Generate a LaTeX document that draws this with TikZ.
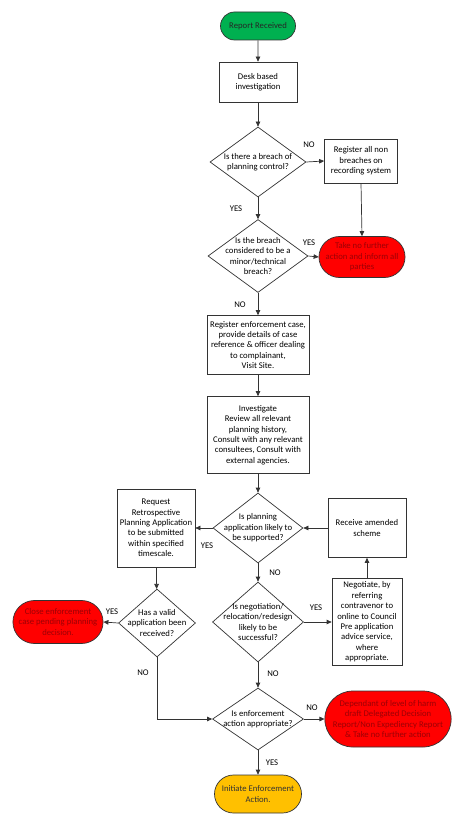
\documentclass[tikz,border=0pt]{standalone}
\usepackage{fontspec}
\setmainfont{Carlito}
\usetikzlibrary{shapes.geometric,shapes.misc,arrows.meta}
\definecolor{startgreen}{HTML}{00B050}
\definecolor{stopred}{HTML}{FF0000}
\definecolor{stoptext}{HTML}{9C0006}
\definecolor{goorange}{HTML}{FFC000}
\definecolor{edge}{HTML}{333333}
\tikzset{
  centered/.style = { align=center, anchor=center },
      base/.style = { draw=edge, line width=0.7pt, centered, inner sep=1pt,
                      font=\fontsize{8.7}{10.4}\selectfont },
       box/.style 2 args = { base, rectangle, fill=white,
                      minimum width=#1, minimum height=#2 },
      ends/.style 2 args = { base, rounded rectangle,
                      minimum width=#1, minimum height=#2 },
  greenend/.style = { fill=startgreen, text=black!85 },
    redend/.style = { fill=stopred, text=stoptext },
 orangeend/.style = { fill=goorange, text=black!80 },
  decision/.style 2 args = { diamond, draw=edge, line width=0.7pt, fill=white,
                      inner sep=0pt, minimum width=#1, minimum height=#2 },
     qtext/.style = { centered, inner sep=0pt, font=\fontsize{8.7}{10.4}\selectfont },
    answer/.style = { centered, inner sep=0pt, font=\fontsize{8.7}{10}\selectfont },
     arrow/.style = { draw=edge, line width=0.7pt, ->,
                      >={Triangle[length=5pt,width=4.5pt]} }
}

\begin{document}
\begin{tikzpicture}[x=1pt, y=-1pt]
  \useasboundingbox (0,0) rectangle (474,826);

  % main column
  \node[ends={77pt}{28pt}, greenend] (received) at (258,26) {Report Received};
  \node[box={78pt}{40pt}] (desk) at (258,82) {Desk based\\investigation};
  \node[decision={96pt}{70pt},
        label={[qtext]center:{Is there a breach of\\planning control?}}]
        (breach) at (258,162) {};
  \node[decision={100pt}{73pt},
        label={[qtext]center:{Is the breach\\considered to be a\\minor/technical\\breach?}}]
        (minor) at (258,256) {};
  \node[box={102pt}{59pt}] (register) at (258,345)
        {Register enforcement case,\\provide details of case\\reference \& officer dealing\\to complainant,\\Visit Site.};
  \node[box={102pt}{77pt}] (investigate) at (258,435)
        {Investigate\\Review all relevant\\planning history,\\Consult with any relevant\\consultees, Consult with\\external agencies.};
  \node[decision={90pt}{70pt},
        label={[qtext]center:{Is planning\\application likely to\\be supported?}}]
        (supported) at (258,528) {};
  \node[decision={91pt}{80pt},
        label={[qtext]center:{Is negotiation/\\relocation/redesign\\likely to be\\successful?}}]
        (negotiation) at (258,622) {};
  \node[decision={91pt}{62pt},
        label={[qtext]center:{Is enforcement\\action appropriate?}}]
        (enforce) at (258,719) {};
  \node[ends={89pt}{38pt}, orangeend] (initiate) at (258,794) {Initiate Enforcement\\Action.};

  % right side
  \node[box={73pt}{44pt}] (nonbreach) at (361,161) {Register all non\\breaches on\\recording system};
  \node[ends={79pt}{41pt}, redend] (nofurther) at (362,257) {Take no further\\action and inform all\\parties};
  \node[box={78pt}{59pt}] (amended) at (367,528) {Receive amended\\scheme};
  \node[box={70pt}{87pt}] (negotiate) at (367,622)
        {Negotiate, by\\referring\\contravenor to\\online to Council\\Pre application\\advice service,\\where\\appropriate.};
  \node[ends={120pt}{56pt}, redend] (harm) at (388,719)
        {Dependant of level of harm\\draft Delegated Decision\\Report/Non Expediency Report\\\& Take no further action};

  % left side
  \node[box={78pt}{78pt}] (request) at (156,528)
        {Request\\Retrospective\\Planning Application\\to be  submitted\\within specified\\timescale.};
  \node[decision={77pt}{68pt},
        label={[qtext]center:{Has a valid\\application been\\received?}}]
        (valid) at (157,623) {};
  \node[ends={84pt}{43pt}, redend] (close) at (58,622) {Close enforcement\\case pending planning\\decision.};

  % answers
  \node[answer] (breachno)  at (309,145) {NO};
  \node[answer] (breachyes) at (236,209) {YES};
  \node[answer] (minoryes)  at (309,243) {YES};
  \node[answer] (minorno)   at (240,305) {NO};
  \node[answer] (suppyes)   at (207,546) {YES};
  \node[answer] (suppno)    at (275,573) {NO};
  \node[answer] (negyes)    at (316,608) {YES};
  \node[answer] (negno)     at (273,674) {NO};
  \node[answer] (validyes)  at (112,612) {YES};
  \node[answer] (validno)   at (143,673) {NO};
  \node[answer] (enfno)     at (312,708) {NO};
  \node[answer] (enfyes)    at (272,763) {YES};

  % connectors
  \foreach \a/\b in {received/desk, desk/breach, minor/register,
                     register/investigate, investigate/supported,
                     supported/negotiation, negotiation/enforce,
                     enforce/initiate, request/valid} {
    \draw [arrow] (\a) -- (\b);
  }
  \draw [arrow] (breach.east) -- (nonbreach.west);
  \draw [arrow] (breach.south) -- (minor.north);
  \draw [arrow] (nonbreach.south) -- (nofurther.north);
  \draw [arrow] (minor.east) -- (nofurther.west);
  \draw [arrow] (supported.west) -- (request.east);
  \draw [arrow] (amended.west) -- (supported.east);
  \draw [arrow] (negotiation.east) -- (negotiate.west);
  \draw [arrow] (negotiate.north) -- (amended.south);
  \draw [arrow] (valid.west) -- (close.east);
  \draw [arrow] (valid.south) |- (enforce.west);
  \draw [arrow] (enforce.east) -- (harm.west);
\end{tikzpicture}
\end{document}
